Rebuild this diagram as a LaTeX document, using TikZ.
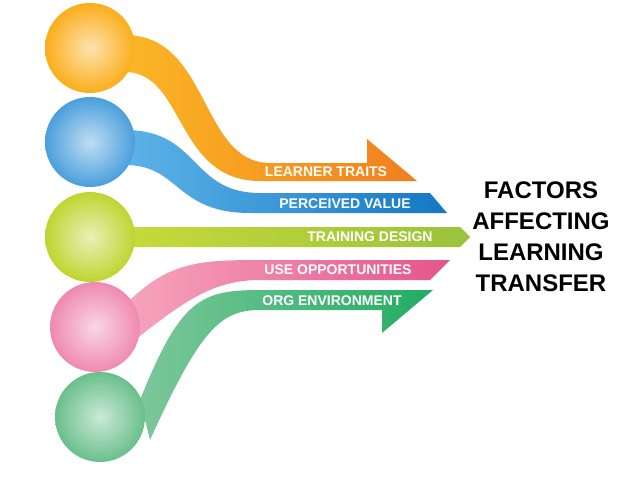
\documentclass[tikz,border=0pt]{standalone}
\usepackage{fontspec}
\setmainfont{Liberation Sans}
\begin{document}
\begin{tikzpicture}[x=1pt,y=-1pt,
  lbl/.style={text=white,font=\bfseries\fontsize{14}{16}\selectfont},
  ttl/.style={font=\bfseries\fontsize{24}{31}\selectfont,align=center},
  orb/.style={inner color=#1!35!white,outer color=#1}]
\useasboundingbox (0,0) rectangle (638,487);
\definecolor{oA}{HTML}{FBB625}\definecolor{oB}{HTML}{F07F1E}
\definecolor{bA}{HTML}{5DB3E8}\definecolor{bB}{HTML}{1577C3}
\definecolor{yA}{HTML}{C8DA3A}\definecolor{yB}{HTML}{9BC23C}
\definecolor{pA}{HTML}{F6A3BD}\definecolor{pB}{HTML}{E4558A}
\definecolor{gA}{HTML}{7CC79A}\definecolor{gB}{HTML}{22AC62}
\definecolor{oC}{HTML}{FAAE1A}\definecolor{bC}{HTML}{4A9FDC}
\definecolor{yC}{HTML}{BFD531}\definecolor{pC}{HTML}{EF8AAE}
\definecolor{gC}{HTML}{6ABF8C}
% bands
\shade[left color=gA,right color=gB] (140,400) .. controls (180,300) and (200,290) .. (260,290) -- (433,290) -- (382,333) -- (382,310) -- (260,310) .. controls (220,310) and (200,330) .. (150,440) -- cycle;
\shade[left color=pA,right color=pB] (130,300) .. controls (170,262) and (200,260) .. (260,260) -- (450,260) -- (430,280) -- (260,280) .. controls (215,280) and (185,300) .. (135,340) -- cycle;
\shade[left color=yA,right color=yB] (120,227) -- (460,227) -- (470,237) -- (460,247) -- (120,247) -- cycle;
\shade[left color=bA,right color=bB] (125,130) .. controls (200,130) and (190,193) .. (260,193) -- (430,193) -- (447,213) -- (250,213) .. controls (175,213) and (180,165) .. (125,165) -- cycle;
\shade[left color=oA,right color=oB] (125,35) .. controls (210,35) and (200,163) .. (270,163) -- (367,163) -- (367,139) -- (417,181) -- (260,181) .. controls (175,181) and (185,72) .. (125,72) -- cycle;
% circles
\shade[orb=oC] (90,48) circle (45) node (c1) {};
\shade[orb=bC] (90,142) circle (45) node (c2) {};
\shade[orb=yC] (90,237) circle (45) node (c3) {};
\shade[orb=pC] (95,327) circle (45) node (c4) {};
\shade[orb=gC] (100,417) circle (45) node (c5) {};
% labels
\node[lbl] (l1) at (326,172) {LEARNER TRAITS};
\node[lbl] (l2) at (345,204) {PERCEIVED VALUE};
\node[lbl] (l3) at (370,237) {TRAINING DESIGN};
\node[lbl] (l4) at (338,270) {USE OPPORTUNITIES};
\node[lbl] (l5) at (332,301) {ORG ENVIRONMENT};
\node[ttl] (t) at (541,237) {FACTORS\\AFFECTING\\LEARNING\\TRANSFER};
\end{tikzpicture}
\end{document}
